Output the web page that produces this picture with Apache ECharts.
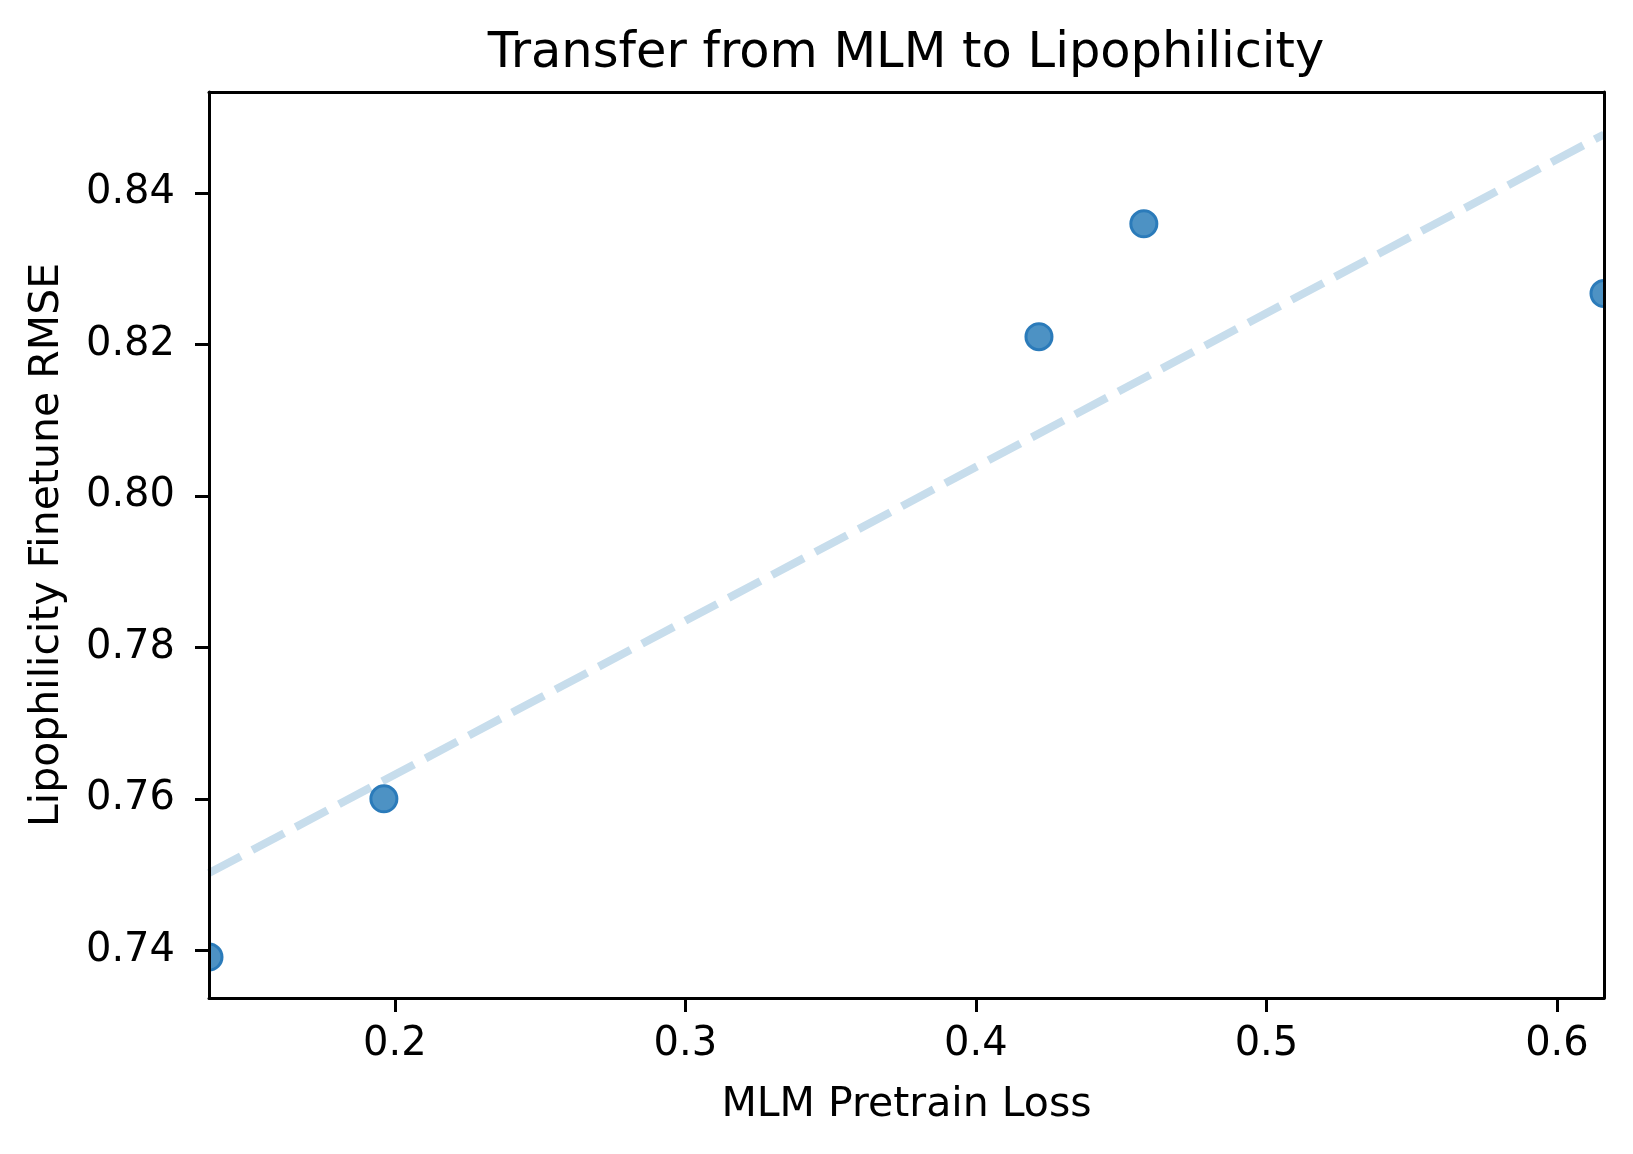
<!DOCTYPE html>
<html>
<head>
<meta charset="utf-8">
<title>Transfer from MLM to Lipophilicity</title>
<script src="https://cdn.jsdelivr.net/npm/echarts@6/dist/echarts.min.js"></script>
<style>
  html, body { margin: 0; padding: 0; background: #fff; }
  #chart { width: 1633px; height: 1154px; }
</style>
</head>
<body>
<div id="chart"></div>
<script>
// values
const pretrainLoss = [0.1360, 0.1962, 0.4217, 0.4578, 0.6162];
const finetuneRmse = [0.7391, 0.7600, 0.8210, 0.8359, 0.8267];

// dashed trend line, ends at the plot edges
const fitX = [0.1360, 0.6162];
const fitY = [0.7502, 0.8477];

const xTicks = [0.2, 0.3, 0.4, 0.5, 0.6];
const yTicks = [0.74, 0.76, 0.78, 0.80, 0.82, 0.84];
const xRange = [0.1360, 0.6162];
const yRange = [0.7337, 0.8533];

const FONT = "DejaVu Sans";

const chart = echarts.init(document.getElementById("chart"), null, { renderer: "canvas" });

const points = pretrainLoss.map((x, i) => [x, finetuneRmse[i]]);
const fitLine = fitX.map((x, i) => [x, fitY[i]]);

// plain frame axes (top / right), just for the box
const frameAxis = {
    axisLine: { show: true, lineStyle: { color: "#000", width: 3 } },
    axisTick: { show: false },
    axisLabel: { show: false },
    splitLine: { show: false },
    z: 10
};

const option = {
    backgroundColor: "#fff",
    animation: false,
    title: {
        text: "Transfer from MLM to Lipophilicity",
        left: 906,
        top: 29,
        padding: 0,
        textAlign: "center",
        textStyle: { fontFamily: FONT, fontSize: 49.5, fontWeight: "normal", color: "#000" }
    },
    grid: { left: 209, right: 29, top: 92, bottom: 156, containLabel: false },
    xAxis: [
        {
            type: "value",
            min: xRange[0],
            max: xRange[1],
            name: "MLM Pretrain Loss",
            nameLocation: "middle",
            nameGap: 87,
            nameTextStyle: { fontFamily: FONT, fontSize: 41, color: "#000" },
            axisLine: { show: true, onZero: false, lineStyle: { color: "#000", width: 3 } },
            axisTick: { show: true, length: 14, lineStyle: { color: "#000", width: 3 }, customValues: xTicks },
            axisLabel: {
                customValues: xTicks,
                margin: 27,
                fontFamily: FONT,
                fontSize: 40,
                color: "#000",
                formatter: v => v.toFixed(1)
            },
            splitLine: { show: false },
            z: 10
        },
        Object.assign({ type: "value", position: "top", min: xRange[0], max: xRange[1] }, frameAxis)
    ],
    yAxis: [
        {
            type: "value",
            min: yRange[0],
            max: yRange[1],
            name: "Lipophilicity Finetune RMSE",
            nameLocation: "middle",
            nameGap: 141,
            nameTextStyle: { fontFamily: FONT, fontSize: 41, color: "#000" },
            axisLine: { show: true, onZero: false, lineStyle: { color: "#000", width: 3 } },
            axisTick: { show: true, length: 14, lineStyle: { color: "#000", width: 3 }, customValues: yTicks },
            axisLabel: {
                customValues: yTicks,
                margin: 34,
                fontFamily: FONT,
                fontSize: 40,
                color: "#000",
                formatter: v => v.toFixed(2)
            },
            splitLine: { show: false },
            z: 10
        },
        Object.assign({ type: "value", position: "right", min: yRange[0], max: yRange[1] }, frameAxis)
    ],
    series: [
        {
            type: "line",
            data: fitLine,
            showSymbol: false,
            symbol: "none",
            lineStyle: { color: "#c7ddec", width: 8, type: [36, 13], cap: "butt" },
            z: 2
        },
        {
            // circles drawn through the axis scales, clipped to the plot box like matplotlib
            type: "custom",
            clip: true,
            data: points,
            renderItem: function (params, api) {
                const p = api.coord([api.value(0), api.value(1)]);
                return {
                    type: "circle",
                    shape: { cx: p[0], cy: p[1], r: 13 },
                    style: { fill: "#4d92c4", stroke: "#2b7bba", lineWidth: 3 }
                };
            },
            z: 3
        }
    ]
};

chart.setOption(option);
</script>
</body>
</html>
